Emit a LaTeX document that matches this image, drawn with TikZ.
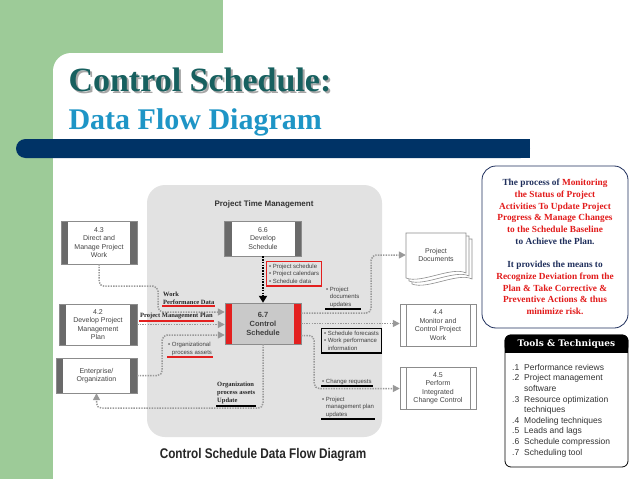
\documentclass[tikz,border=0pt]{standalone}
\usepackage{fontspec}
\setmainfont{Liberation Serif}
\setsansfont{Liberation Sans}
\newfontfamily\slabfont{DejaVu Serif}
\usetikzlibrary{positioning,arrows.meta,calc}
\definecolor{slidegreen}{HTML}{9DCB98}
\definecolor{titleteal}{HTML}{17605F}
\definecolor{titleblue}{HTML}{1E95C6}
\definecolor{barnavy}{HTML}{003366}
\definecolor{ptmgray}{HTML}{E2E2E2}
\definecolor{sidegray}{HTML}{6A6A6A}
\definecolor{ctrlred}{HTML}{E3201F}
\definecolor{ctrlfill}{HTML}{C9C9C9}
\definecolor{notenavy}{HTML}{1F2F5C}
\definecolor{notered}{HTML}{E21B1B}
\definecolor{txtgray}{HTML}{444444}
\newcommand{\nred}[1]{\textcolor{notered}{#1}}
\newcommand{\nnavy}[1]{\textcolor{notenavy}{#1}}
\newcommand{\bul}{\textbullet~}
\newcommand{\nobul}{\hphantom{\textbullet~}}
\newcommand{\shadetext}[1]{\rlap{\hspace*{2pt}\raisebox{-2pt}{\textcolor{black!35}{#1}}}\textcolor{titleteal}{#1}}
\tikzset{
  sidebars/.style={path picture={
      \fill[#1] (path picture bounding box.north west) rectangle ([xshift=7pt]path picture bounding box.south west);
      \fill[#1] (path picture bounding box.north east) rectangle ([xshift=-7pt]path picture bounding box.south east);}},
  sidebox/.style={draw=black!45, fill=white, text=txtgray, align=center, inner sep=1pt,
    font=\sffamily\fontsize{7}{8.5}\selectfont, sidebars=sidegray},
  ctrlbox/.style={sidebox, fill=ctrlfill, text=black!75, sidebars=ctrlred,
    font=\sffamily\bfseries\fontsize{7.5}{9}\selectfont},
  linebox/.style={draw=black!45, fill=white, text=txtgray, align=center, inner sep=1pt,
    minimum width=76pt, minimum height=42pt, font=\sffamily\fontsize{7}{8.5}\selectfont,
    path picture={
      \draw[black!45] ([xshift=6pt]path picture bounding box.north west) -- ([xshift=6pt]path picture bounding box.south west);
      \draw[black!45] ([xshift=-6pt]path picture bounding box.north east) -- ([xshift=-6pt]path picture bounding box.south east);}},
  docpage/.style={draw=black!45, fill=white, line width=0.6pt},
  docnode/.style={minimum width=60pt, minimum height=44pt, inner sep=0, align=center,
    text=txtgray, font=\sffamily\fontsize{7}{8.5}\selectfont},
  flow/.style={draw=black!40, line width=1.5pt, dash pattern=on 1.4pt off 1.2pt,
    rounded corners=5pt, -{Triangle[length=7pt,width=7pt,fill=black!40]}},
  blkflow/.style={draw=black, line width=2.4pt, dash pattern=on 1.5pt off 1.3pt,
    -{Triangle[length=7pt,width=8pt]}},
  flab/.style={font=\fontsize{6.5}{8}\selectfont\bfseries, align=left, text=black!85,
    inner xsep=1pt, inner ysep=1.5pt},
  slab/.style={font=\sffamily\fontsize{6}{7.5}\selectfont, align=left, text=black!75,
    inner xsep=1pt, inner ysep=1.5pt},
  listbox/.style={slab, line width=1.1pt, inner sep=2.5pt, anchor=north west},
  redul/.style={draw=ctrlred, line width=1.1pt},
  blkul/.style={draw=black, line width=1.3pt},
  note/.style={draw=notenavy, line width=0.8pt, rounded corners=14pt, minimum width=146pt,
    minimum height=162pt, align=center, inner sep=2pt,
    font=\fontsize{9.3}{11.7}\selectfont\bfseries},
  ttframe/.style={draw=black, line width=0.8pt, rounded corners=6pt, minimum width=123pt,
    minimum height=132pt, inner sep=0},
  tthead/.style={text=white, font=\slabfont\bfseries\fontsize{9}{10}\selectfont},
  ttlist/.style={align=left, inner sep=0, text=black!80, font=\sffamily\fontsize{8.5}{10.6}\selectfont},
}
\begin{document}
\begin{tikzpicture}[x=1pt,y=-1pt]
  \useasboundingbox (0,0) rectangle (638,479);
  % slide
  \fill[white] (0,0) rectangle (638,479);
  \fill[slidegreen] (0,0) rectangle (223,53);
  \fill[slidegreen] (0,0) rectangle (53,479);
  \fill[slidegreen] (53,53) rectangle (80,80);
  \fill[white, rounded corners=18pt] (53,53) rectangle (700,540);
  \node[anchor=base west, font=\bfseries\fontsize{34}{40}\selectfont] (title) at (65,91) {\shadetext{Control Schedule:}};
  \node[anchor=base west, text=titleblue, font=\bfseries\fontsize{30}{36}\selectfont] (subtitle) at (65,129) {Data Flow Diagram};
  \fill[barnavy, rounded corners=9.5pt] (16,139) rectangle (530,158);
  \fill[barnavy] (500,139) rectangle (530,158);

  % project time management area
  \node[fill=ptmgray, rounded corners=18pt, minimum width=235pt, minimum height=252pt, inner sep=0] (ptm) at (264.5,311) {};
  \node[font=\sffamily\bfseries\fontsize{8}{9}\selectfont, text=black!80] (ptmlab) at (264,204) {Project Time Management};

  % processes
  \node[sidebox, minimum width=76pt, minimum height=43pt] (p43) at (99,242.5) {4.3\\Direct and\\Manage Project\\Work};
  \node[sidebox, minimum width=78pt, minimum height=41pt] (p42) at (98,324.5) {4.2\\Develop Project\\Management\\Plan};
  \node[sidebox, minimum width=81pt, minimum height=35pt] (ent) at (96.5,375.5) {Enterprise/\\Organization};
  \node[sidebox, minimum width=77pt, minimum height=35pt] (p66) at (263,238.5) {6.6\\Develop\\Schedule};
  \node[ctrlbox, minimum width=76pt, minimum height=41pt] (p67) at (263,323.5) {6.7\\Control\\Schedule};
  \coordinate (docc) at (436,255);
  \foreach \pg in {6,3,0}
    \draw[docpage] ($(docc)+(-30+\pg,-22+\pg)$) -- ($(docc)+(30+\pg,-22+\pg)$) -- ($(docc)+(30+\pg,18+\pg)$)
      .. controls +(-14,-7) and +(15,6) .. ($(docc)+(-30+\pg,23+\pg)$) -- cycle;
  \node[docnode] (docs) at (docc) {Project\\Documents};
  \node[linebox] (p44) at (438,325) {4.4\\Monitor and\\Control Project\\Work};
  \node[linebox] (p45) at (438,388.5) {4.5\\Perform\\Integrated\\Change Control};

  % data flows
  \draw[flow] (p43.south) -- ++(0,22) -- ++(59,0) |- ([yshift=11.5pt]p67.west);
  \draw[flow] (p42.east) -- (p42.east -| p67.west);
  \draw[flow] (ent.east) -- ++(25,0) |- ([yshift=-11.5pt]p67.west);
  \draw[flow] (p67.south) -- ++(0,64) -| (ent.south);
  \draw[blkflow] (p66.south) -- (p67.north);
  \draw[flow] ([yshift=10.5pt]p67.east) -- ++(70,0) |- (docs.west);
  \draw[flow] (p67.east) -- (p67.east -| p44.west);
  \draw[flow] ([yshift=-12pt]p67.east) -- ++(13,0) |- (p45.west);

  % flow labels
  \node[flab, anchor=south west] (wpd) at (162,306) {Work\\Performance Data};
  \draw[redul] (wpd.south west) -- (wpd.south east);
  \node[flab, anchor=south west] (pmp) at (139,321) {Project Management Plan};
  \draw[redul] (pmp.south west) -- (pmp.south east);
  \node[slab, anchor=south west] (opa) at (167,357) {\bul Organizational\\\nobul process assets};
  \draw[redul] (opa.south west) -- (opa.south east);
  \node[flab, anchor=south west] (opu) at (216,406) {Organization\\process assets\\Update};
  \draw[blkul] (opu.south west) -- (opu.south east);
  \node[listbox, draw=ctrlred] (sched) at (266,261) {\bul Project schedule\\\bul Project calendars\\\bul Schedule data};
  \node[slab, anchor=south west] (docup) at (325,309) {\bul Project\\\nobul documents\\\nobul updates};
  \draw[blkul] (docup.south west) -- (docup.south east);
  \node[listbox, draw=black] (fcast) at (321,328) {\bul Schedule forecasts\\\bul Work performance\\\nobul information};
  \node[slab, anchor=south west] (chreq) at (321,386) {\bul Change requests};
  \draw[blkul] (chreq.south west) -- (chreq.south east);
  \node[slab, anchor=south west] (pmpu) at (321,419) {\bul Project\\\nobul management plan\\\nobul updates};
  \draw[blkul] (pmpu.south west) -- (pmpu.south east);

  \node[font=\sffamily\bfseries\fontsize{14}{16}\selectfont, text=black!85] (cap) at (263,455)
    {\scalebox{0.84}[1]{Control Schedule Data Flow Diagram}};

  % callout
  \node[note] (note) at (555,247) {%
    \nnavy{The process of }\nred{Monitoring}\\
    \nred{the Status of Project}\\
    \nred{Activities To Update Project}\\
    \nred{Progress \& Manage Changes}\\
    \nred{to the Schedule Baseline}\\
    \nnavy{to Achieve the Plan.}\\[11.7pt]
    \nnavy{It provides the means to}\\
    \nred{Recognize Deviation from the}\\
    \nred{Plan \& Take Corrective \&}\\
    \nred{Preventive Actions \& thus}\\
    \nred{minimize risk.}};

  % tools and techniques
  \node[ttframe] (tools) at (566.5,401) {};
  \fill[black, rounded corners=6pt] (tools.north west) rectangle ([yshift=-18pt]tools.north east);
  \fill[black] ([yshift=-9pt]tools.north west) rectangle ([yshift=-18pt]tools.north east);
  \node[tthead] (tthead) at ([yshift=-9pt]tools.north) {Tools \& Techniques};
  \node[ttlist, anchor=north west] (ttlist) at (512,364) {%
    \makebox[12pt][l]{.1}Performance reviews\\
    \makebox[12pt][l]{.2}Project management\\
    \hspace*{12pt}software\\
    \makebox[12pt][l]{.3}Resource optimization\\
    \hspace*{12pt}techniques\\
    \makebox[12pt][l]{.4}Modeling techniques\\
    \makebox[12pt][l]{.5}Leads and lags\\
    \makebox[12pt][l]{.6}Schedule compression\\
    \makebox[12pt][l]{.7}Scheduling tool};
\end{tikzpicture}
\end{document}
